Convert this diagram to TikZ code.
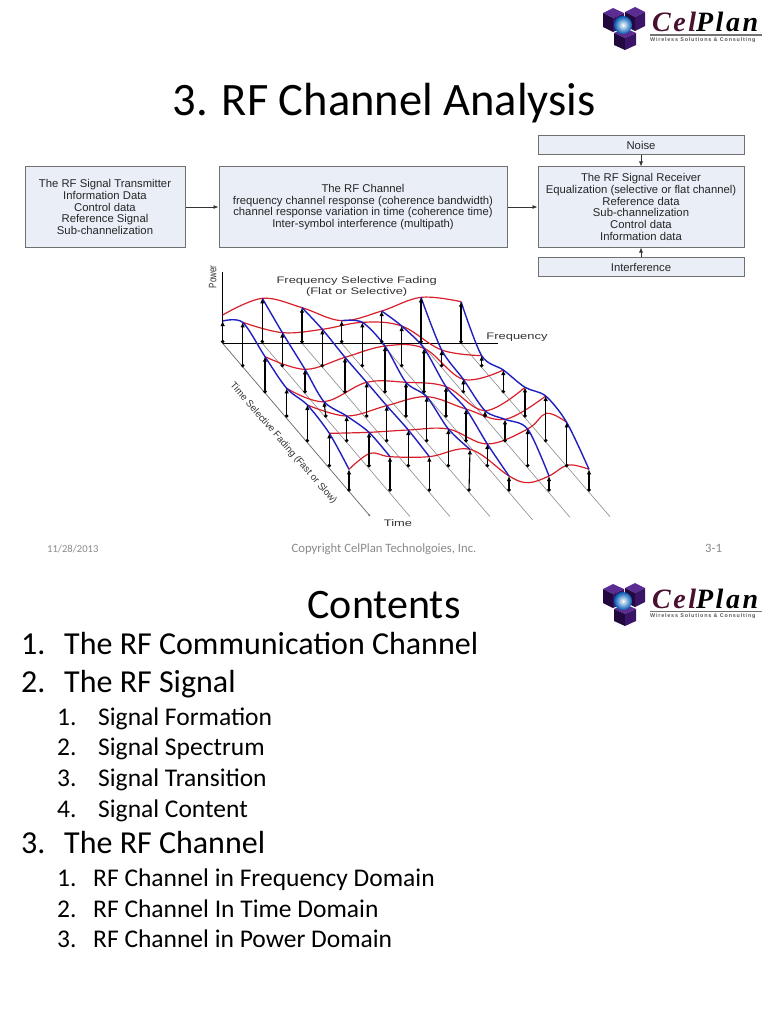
\documentclass[tikz,border=0pt]{standalone}
\usepackage{fontspec}
\setmainfont{Carlito}
\newfontfamily\arialf{Liberation Sans}
\newfontfamily\widef[FakeStretch=1.36]{Liberation Sans}
\newfontfamily\narrowf[FakeStretch=0.74]{Liberation Sans}
\newfontfamily\timesf{Liberation Serif}
\usetikzlibrary{arrows.meta,positioning}
\definecolor{boxfill}{HTML}{E9EEF7}
\definecolor{boxline}{HTML}{707070}
\definecolor{cubeA}{HTML}{3A1466}
\definecolor{cubeB}{HTML}{5B2C91}
\definecolor{cubeC}{HTML}{23083F}
\definecolor{footgrey}{HTML}{8A8A8A}
\definecolor{curvered}{HTML}{D8202A}
\definecolor{curveblue}{HTML}{2020C0}
\definecolor{celred}{HTML}{4A1030}
\tikzset{
  flowbox/.style={draw=boxline,line width=1pt,fill=boxfill,align=center,inner sep=0pt,
    font=\arialf\fontsize{11.3}{11.8}\selectfont,text=black!85},
  flowarrow/.style={draw=black!80,line width=0.7pt,-{Latex[length=5pt,width=4pt]}},
  titletext/.style={font=\fontsize{46.5}{50}\selectfont,text=black,inner sep=0pt},
  conttitle/.style={font=\fontsize{42}{44}\selectfont,text=black,inner sep=0pt},
  itemone/.style={font=\fontsize{32}{34}\selectfont,text=black,inner sep=0pt,anchor=base west},
  itemtwo/.style={font=\fontsize{25.5}{28}\selectfont,text=black,inner sep=0pt,anchor=base west},
  foot/.style={font=\fontsize{12.7}{14}\selectfont,text=footgrey,inner sep=0pt},
  gridline/.style={draw=black!45,line width=0.6pt},
  stem/.style={draw=black,line width=1.1pt,{Circle[length=3.5pt]}-{Latex[length=5pt,width=4.5pt]}},
  redcurve/.style={draw=curvered,line width=1.2pt},
  bluecurve/.style={draw=curveblue,line width=1.4pt},
  charttext/.style={font=\widef\fontsize{9.5}{11}\selectfont,text=black!80,inner sep=0pt,align=center},
  charttextb/.style={font=\arialf\fontsize{9.6}{11}\selectfont,text=black!80,inner sep=0pt,align=center},
  charttextn/.style={font=\narrowf\fontsize{10.8}{12}\selectfont,text=black!80,inner sep=0pt,align=center},
  celplan/.pic={
    \fill[cubeB] (13,13) -- (23,8) -- (34,13) -- (23,18) -- cycle;
    \fill[cubeC] (13,13) -- (23,18) -- (23,32) -- (13,27) -- cycle;
    \fill[cubeA] (23,18) -- (34,13) -- (34,27) -- (23,32) -- cycle;
    \fill[cubeB] (35,12) -- (45,7) -- (55,12) -- (45,17) -- cycle;
    \fill[cubeA] (45,17) -- (55,12) -- (55,26) -- (45,31) -- cycle;
    \fill[cubeC] (35,12) -- (45,17) -- (45,31) -- (35,26) -- cycle;
    \fill[cubeB] (24,33) -- (35,28) -- (46,33) -- (35,38) -- cycle;
    \fill[cubeC] (24,33) -- (35,38) -- (35,50) -- (24,45) -- cycle;
    \fill[cubeA] (35,38) -- (46,33) -- (46,45) -- (35,50) -- cycle;
    \shade[inner color=white,outer color=blue!50!cyan!70!black] (33,25) circle (9);
    \fill[black!55] (60,34.5) rectangle (172,36);
    \node[inner sep=0pt,anchor=base west] (brand) at (62,32)
      {\timesf\bfseries\itshape\fontsize{28}{30}\selectfont\addfontfeature{LetterSpace=9}\textcolor{celred}{Cel}\textcolor{black}{Plan}};
    \node[inner sep=0pt,anchor=base west] (tag) at (60,41.5)
      {\arialf\bfseries\fontsize{5.4}{6}\selectfont\addfontfeature{LetterSpace=15}\textcolor{black!65}{Wireless Solutions \& Consulting}};
  }
}
\begin{document}
\begin{tikzpicture}[x=1pt,y=-1pt]
\useasboundingbox (0,0) rectangle (768,1024);
\fill[white] (0,0) rectangle (768,1024);

% Slide 1
\pic (logoa) at (590,0) {celplan};
\node[titletext] (title) at (384,103) {3. RF Channel Analysis};

\node[flowbox,minimum width=160pt,minimum height=80pt] (tx) at (105,207)
 {The RF Signal Transmitter\\Information Data\\Control data\\Reference Signal\\Sub-channelization};
\node[flowbox,minimum width=288pt,minimum height=80pt] (chan) at (363,207)
 {The RF Channel\\frequency channel response (coherence bandwidth)\\channel response variation in time (coherence time)\\Inter-symbol interference (multipath)};
\node[flowbox,minimum width=206pt,minimum height=80pt] (rx) at (641,207)
 {The RF Signal Receiver\\Equalization (selective or flat channel)\\Reference data\\Sub-channelization\\Control data\\Information data};
\node[flowbox,minimum width=206pt,minimum height=19pt] (noise) at (641,145.5) {Noise};
\node[flowbox,minimum width=206pt,minimum height=19pt] (interf) at (641,267) {Interference};
\draw[flowarrow] (tx) -- (chan);
\draw[flowarrow] (chan) -- (rx);
\draw[flowarrow] (noise) -- (rx);
\draw[flowarrow] (interf) -- (rx);

% Chart
\begin{scope}[shift={(200,260)},x=0.33333pt,y=-0.33333pt]
\foreach \n/\bx/\by/\tx/\ty in {
 00/68/250/68/183, 01/187/250/187/115, 02/306/250/306/143, 03/425/250/425/182, 04/545/250/545/153, 05/663/250/663/112, 06/783/250/783/125,
 10/128/322/128/187, 11/247/322/247/218, 12/367/322/367/208, 13/487/322/487/187, 14/605/322/605/198, 15/725/322/725/270, 16/845/322/845/287,
 20/195/400/195/290, 21/315/400/315/328, 22/435/400/435/292, 23/555/400/555/258, 24/672/400/672/265, 25/790/400/790/358, 26/910/400/910/330,
 30/260/473/260/385, 31/378/473/372/425, 32/500/473/500/367, 33/618/473/618/367, 34/738/473/738/380, 35/855/473/855/452, 36/975/473/975/382,
 40/322/547/322/435, 41/440/547/440/468, 42/560/547/560/437, 43/680/547/680/410, 44/798/547/798/447, 45/915/547/915/478, 46/1037/547/1037/408,
 50/388/622/388/520, 51/507/622/507/517, 52/625/622/625/510, 53/745/622/745/507, 54/862/622/862/552, 55/983/622/983/507, 56/1100/622/1100/487,
 60/447/695/447/628, 61/570/695/570/590, 62/688/695/688/590, 63/807/695/810/568, 64/927/695/927/648, 65/1047/695/1047/648, 66/1167/695/1167/628}{
  \coordinate (b\n) at (\bx,\by);
  \coordinate (t\n) at (\tx,\ty);
}
\coordinate (origin) at (68,250);
\coordinate (powertip) at (68,35);
\coordinate (freqtip) at (895,250);
\coordinate (timetip) at (510,768);
\coordinate (e1) at (630,770);
\coordinate (e2) at (750,770);
\coordinate (e3) at (870,770);
\coordinate (e4) at (998,780);
\coordinate (e5) at (1110,772);
\coordinate (e6) at (1230,770);
\coordinate (redstart) at (68,165);
\foreach \c in {1,...,6}{ \draw[gridline] (b0\c) -- (e\c); }
\draw[black!60,line width=0.7pt,-{Circle[length=2pt]}] (origin) -- (timetip);
\draw[black,line width=1pt] (origin) -- (powertip);
\draw[black,line width=1pt] (origin) -- (freqtip);

\draw[redcurve] plot[smooth,tension=0.6] coordinates {(redstart) (t01) (t02) (t03) (t04) (t05) (t06)};
\draw[redcurve] plot[smooth,tension=0.6] coordinates {(t10) (t11) (t12) (t13) (t14) (t15) (t16)};
\draw[redcurve] plot[smooth,tension=0.6] coordinates {(t20) (t21) (t22) (t23) (t24) (t25) (t26)};
\draw[redcurve] plot[smooth,tension=0.6] coordinates {(t30) (t31) (t32) (t33) (t34) (t35) (t36)};
\draw[redcurve] plot[smooth,tension=0.6] coordinates {(t40) (t41) (t42) (t43) (t44) (t45) (t46)};
\coordinate (r5a) at (1040,460);
\draw[redcurve] plot[smooth,tension=0.6] coordinates {(t50) (t51) (t52) (t53) (t54) (t55) (r5a) (t56)};
\coordinate (r6a) at (510,580);
\coordinate (r6b) at (985,668);
\coordinate (r6c) at (1105,615);
\draw[redcurve] plot[smooth,tension=0.6] coordinates {(t60) (r6a) (t61) (t62) (t63) (t64) (r6b) (t65) (r6c) (t66)};

\foreach \c in {0,...,6}{
  \draw[bluecurve] plot[smooth,tension=0.5] coordinates {(t0\c) (t1\c) (t2\c) (t3\c) (t4\c) (t5\c) (t6\c)};
}
\foreach \r in {0,...,6}{\foreach \c in {0,...,6}{ \draw[stem] (b\r\c) -- (t\r\c); }}

\node[charttext] (fsf) at (470,80) {Frequency Selective Fading\\(Flat or Selective)};
\node[charttext] (freq) at (951,231) {Frequency};
\node[charttextn,rotate=90] (power) at (38,51) {Power};
\node[charttext] (timel) at (594,788) {Time};
\node[charttextb,rotate=-49] (tsf) at (250,550) {Time Selective Fading (Fast or Slow)};
\end{scope}

\node[foot,anchor=base west,font=\fontsize{10.6}{12}\selectfont] (d1) at (47,552) {11/28/2013};
\node[foot,anchor=base] (d2) at (384,552) {Copyright CelPlan Technolgoies, Inc.};
\node[foot,anchor=base west] (d3) at (705,552) {3-1};

% Slide 2
\pic (logob) at (590,576) {celplan};
\node[conttitle] (ctitle) at (384,605) {Contents};
\node[itemone] (n1) at (21,654) {1.};
\node[itemone] (i1) at (64,654) {The RF Communication Channel};
\node[itemone] (n2) at (21,692) {2.};
\node[itemone] (i2) at (64,692) {The RF Signal};
\node[itemtwo] (n21) at (57,725) {1.};
\node[itemtwo] (i21) at (98,725) {Signal Formation};
\node[itemtwo] (n22) at (57,755) {2.};
\node[itemtwo] (i22) at (98,755) {Signal Spectrum};
\node[itemtwo] (n23) at (57,786) {3.};
\node[itemtwo] (i23) at (98,786) {Signal Transition};
\node[itemtwo] (n24) at (57,817) {4.};
\node[itemtwo] (i24) at (98,817) {Signal Content};
\node[itemone] (n3) at (21,853) {3.};
\node[itemone] (i3) at (64,853) {The RF Channel};
\node[itemtwo] (n31) at (57,886) {1.};
\node[itemtwo] (i31) at (93,886) {RF Channel in Frequency Domain};
\node[itemtwo] (n32) at (57,917) {2.};
\node[itemtwo] (i32) at (93,917) {RF Channel In Time Domain};
\node[itemtwo] (n33) at (57,947) {3.};
\node[itemtwo] (i33) at (93,947) {RF Channel in Power Domain};
\end{tikzpicture}
\end{document}
